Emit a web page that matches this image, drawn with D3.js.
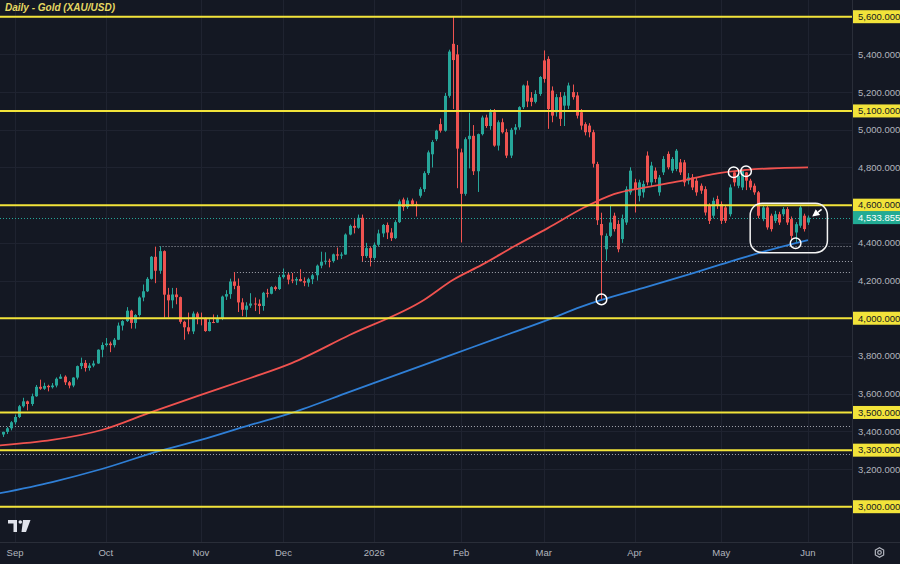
<!DOCTYPE html>
<html>
<head>
<meta charset="utf-8">
<script src="https://cdn.jsdelivr.net/npm/d3@7"></script>
<style>
    html, body { margin: 0; padding: 0; background: #141823; }
    svg { display: block; }
    text { font-family: 'Liberation Sans', 'DejaVu Sans', sans-serif; }
</style>
</head>
<body>
<svg id="chart" width="900" height="564"></svg>
<script>

const title = 'Daily - Gold (XAU/USD)'

// trading calendar
const firstDay = '2025-08-27'
const lastDay = '2026-06-01'
const holidays = ['2025-12-25', '2026-01-01', '2026-04-03']
const monthLabels = ['Sep', 'Oct', 'Nov', 'Dec', '2026', 'Feb', 'Mar', 'Apr', 'May', 'Jun']

// daily candles (Aug 27 .. Jun 1)
const open = [
    3383, 3397, 3416,
    3448, 3476, 3533, 3559, 3545, 3586, 3636, 3626, 3641, 3634, 3643, 3679, 3690, 3660, 3643, 3685, 3746, 3763, 3736, 3749, 3760, 3833,
    3858, 3866, 3857, 3886, 3961, 3985, 4040, 3975, 4017, 4110, 4143, 4209, 4326, 4252, 4356, 4125, 4095, 4126, 4112, 3981, 3952, 3930, 4025,
    4002, 4000, 3932, 3980, 3977, 4001, 4115, 4128, 4195, 4172, 4084, 4045, 4067, 4078, 4077, 4065, 4135, 4130, 4165, 4155,
    4218, 4231, 4205, 4200, 4208, 4197, 4189, 4207, 4228, 4279, 4300, 4305, 4303, 4339, 4332, 4338, 4444, 4490, 4480, 4533, 4330, 4372,
    4320, 4390, 4450, 4495, 4455, 4425, 4510, 4630, 4590, 4625, 4605, 4650, 4685, 4770, 4870, 4950, 5030, 4995, 5180, 5456, 5400,
    4880, 4660, 4950, 4968, 4780, 4977, 5065, 5020, 5093, 4916, 5040, 4987, 4863, 5000, 5013, 5120, 5235, 5170, 5148, 5190,
    5368, 5376, 5208, 5093, 5173, 5128, 5128, 5200, 5182, 5093, 5030, 5022, 4987, 4818, 4500, 4366, 4437, 4544, 4500, 4420, 4508, 4668,
    4721, 4650, 4668, 4863, 4721, 4783, 4668, 4774, 4872, 4783, 4792, 4827, 4827, 4730, 4747, 4730, 4703, 4685, 4597, 4544, 4632,
    4606, 4588, 4552, 4774, 4703, 4694, 4774, 4730, 4703, 4668, 4526, 4588, 4544, 4517, 4552, 4552, 4579, 4526, 4455, 4491, 4544,
    4508
]
const high = [
    3398, 3423, 3454,
    3489, 3540, 3578, 3563, 3600, 3646, 3674, 3658, 3647, 3656, 3686, 3703, 3697, 3667, 3687, 3749, 3791, 3778, 3762, 3775, 3835, 3872,
    3895, 3876, 3895, 3977, 3990, 4059, 4045, 4022, 4116, 4179, 4218, 4330, 4380, 4381, 4360, 4161, 4161, 4161, 4115, 3987, 4030, 4036, 4034,
    4030, 4004, 3995, 4020, 4018, 4120, 4149, 4210, 4245, 4211, 4106, 4085, 4133, 4110, 4100, 4140, 4156, 4170, 4172, 4230,
    4264, 4240, 4240, 4218, 4260, 4217, 4215, 4236, 4285, 4353, 4350, 4316, 4343, 4375, 4350, 4450, 4497, 4525, 4550, 4550, 4400, 4380,
    4402, 4470, 4500, 4508, 4478, 4520, 4630, 4640, 4640, 4635, 4620, 4695, 4780, 4890, 4945, 5000, 5060, 5195, 5425, 5598, 5450,
    4900, 4960, 5090, 5025, 4980, 5075, 5080, 5110, 5110, 5050, 5060, 5005, 5010, 5030, 5125, 5240, 5260, 5200, 5210, 5285,
    5421, 5390, 5230, 5190, 5200, 5200, 5250, 5240, 5200, 5110, 5040, 5035, 5000, 4830, 4560, 4450, 4597, 4560, 4520, 4550, 4700, 4801,
    4740, 4735, 4730, 4885, 4830, 4800, 4760, 4860, 4885, 4855, 4898, 4845, 4840, 4770, 4765, 4745, 4715, 4700, 4610, 4640, 4650,
    4620, 4600, 4710, 4775, 4770, 4790, 4776, 4740, 4715, 4675, 4600, 4595, 4555, 4570, 4565, 4590, 4590, 4540, 4510, 4600, 4555,
    4545
]
const low = [
    3370, 3386, 3405,
    3436, 3470, 3526, 3511, 3535, 3583, 3620, 3620, 3612, 3627, 3633, 3678, 3646, 3628, 3634, 3675, 3730, 3717, 3722, 3740, 3758, 3793,
    3850, 3820, 3845, 3884, 3935, 3980, 3945, 3945, 4009, 4090, 4139, 4205, 4186, 4236, 4003, 4004, 4053, 4074, 3971, 3886, 3915, 3916, 3968,
    3962, 3928, 3930, 3974, 3975, 3990, 4097, 4103, 4154, 4033, 4011, 4007, 4055, 4038, 4022, 4040, 4110, 4127, 4146, 4150,
    4210, 4180, 4186, 4176, 4195, 4170, 4167, 4181, 4200, 4265, 4285, 4270, 4295, 4310, 4315, 4337, 4440, 4450, 4475, 4302, 4320, 4275,
    4310, 4380, 4430, 4420, 4410, 4420, 4505, 4570, 4580, 4595, 4540, 4640, 4670, 4760, 4800, 4940, 4985, 4990, 5170, 5110, 4690,
    4402, 4650, 4795, 4760, 4670, 4970, 5010, 5000, 4910, 4890, 4980, 4850, 4850, 4975, 5000, 5110, 5120, 5125, 5140, 5180,
    5250, 5005, 5040, 5070, 5020, 5020, 5110, 5160, 5060, 5000, 4970, 4960, 4800, 4495, 4100, 4304, 4430, 4460, 4350, 4400, 4495, 4655,
    4561, 4620, 4640, 4705, 4700, 4720, 4650, 4760, 4790, 4770, 4780, 4760, 4700, 4710, 4680, 4650, 4660, 4545, 4500, 4530, 4580,
    4500, 4505, 4540, 4700, 4690, 4680, 4680, 4680, 4655, 4530, 4515, 4470, 4460, 4505, 4495, 4540, 4495, 4420, 4400, 4480, 4460,
    4495
]
const close = [
    3397, 3416, 3448,
    3476, 3533, 3559, 3545, 3586, 3636, 3626, 3641, 3634, 3643, 3679, 3690, 3660, 3643, 3685, 3746, 3763, 3736, 3749, 3760, 3833, 3858,
    3866, 3857, 3886, 3961, 3985, 4040, 3975, 4017, 4110, 4143, 4209, 4326, 4252, 4356, 4125, 4095, 4126, 4112, 3981, 3952, 3930, 4025, 4002,
    4000, 3932, 3980, 3977, 4001, 4115, 4128, 4195, 4172, 4084, 4045, 4067, 4078, 4077, 4065, 4135, 4130, 4165, 4155, 4218,
    4231, 4205, 4200, 4208, 4197, 4189, 4207, 4228, 4279, 4300, 4305, 4303, 4339, 4332, 4338, 4444, 4490, 4480, 4533, 4330, 4372, 4320,
    4390, 4450, 4495, 4455, 4425, 4510, 4620, 4590, 4625, 4605, 4595, 4685, 4770, 4880, 4935, 4995, 4995, 5180, 5415, 5370, 4900,
    4660, 4950, 4968, 4780, 4977, 5065, 5020, 5093, 4916, 5040, 4987, 4863, 5000, 5013, 5120, 5235, 5150, 5148, 5190, 5280,
    5270, 5110, 5075, 5173, 5058, 5181, 5235, 5173, 5075, 5022, 4987, 4987, 4820, 4520, 4440, 4437, 4508, 4473, 4366, 4526, 4685, 4783,
    4685, 4721, 4712, 4721, 4810, 4739, 4747, 4845, 4801, 4845, 4889, 4774, 4721, 4747, 4694, 4668, 4677, 4561, 4517, 4623, 4597,
    4517, 4517, 4694, 4721, 4756, 4783, 4730, 4694, 4668, 4544, 4588, 4482, 4473, 4552, 4508, 4579, 4508, 4437, 4499, 4588, 4473,
    4533.855
]

// moving averages (bar index, price)
const redIdx = [-1, 12, 24, 36, 48, 60, 70, 84, 102, 109, 116, 124, 132, 141, 148, 156, 164, 172, 180, 188, 195]
const redVal = [3325, 3354, 3407, 3502, 3593, 3683, 3762, 3911, 4097, 4203, 4283, 4383, 4478, 4590, 4659, 4696, 4728, 4765, 4787, 4797, 4801]
const blueIdx = [-1, 12, 24, 38, 48, 60, 70, 84, 96, 108, 120, 132, 140, 145, 156, 172, 184, 192, 195]
const blueVal = [3070, 3131, 3200, 3296, 3354, 3434, 3498, 3609, 3705, 3800, 3896, 3991, 4060, 4097, 4166, 4272, 4352, 4399, 4415]

// price levels
const priceTicks = [3000, 3200, 3400, 3600, 3800, 4000, 4200, 4400, 4600, 4800, 5000, 5200, 5400, 5600]
const levels = [5600, 5100, 4600, 4000, 3500, 3300, 3000]
const rayPrices = [4381, 4245, 4302, 3430, 3282]
const rayStart = [38, 56, 87, -5, -5]
const lastPrice = 4533.855

// annotations (bar index, price)
const ringIdx = [177, 180, 145, 192]
const ringPrice = [4775, 4780, 4100, 4398]
const boxIdx = [181, 199.7]
const boxPrice = [4610, 4348]
const arrowIdx = [198.3, 196.3]
const arrowPrice = [4578, 4544]


const W = 900
const H = 564
const plotW = 852
const plotH = 542

const up = '#26a69a'
const down = '#ef5350'
const yellow = '#f2e33a'
const gridColor = '#1f2330'
const axisText = '#b2b5be'

const days = []
for (let d = new Date(firstDay + 'T00:00:00Z'); d <= new Date(lastDay + 'T00:00:00Z'); d.setUTCDate(d.getUTCDate() + 1)) {
    const iso = d.toISOString().slice(0, 10)
    const wd = d.getUTCDay()
    if (wd === 0 || wd === 6 || holidays.includes(iso)) continue
    days.push(iso)
}

const monthStarts = []
days.forEach((d, i) => {
    if (i > 0 && d.slice(5, 7) !== days[i - 1].slice(5, 7)) monthStarts.push(i)
})

const x = d3.scaleLinear().domain([3, 195]).range([15, 808])
const y = d3.scaleLinear().domain([3000, 5600]).range([506.7, 16.7])

const svg = d3.select('#chart')

svg.append('rect').attr('width', W).attr('height', H).attr('fill', '#141823')

svg.append('defs').append('clipPath').attr('id', 'plotclip')
    .append('rect').attr('width', plotW).attr('height', plotH)

svg.select('defs').append('marker')
    .attr('id', 'head')
    .attr('viewBox', '0 0 10 10')
    .attr('refX', 8).attr('refY', 5)
    .attr('markerWidth', 4.5).attr('markerHeight', 4.5)
    .attr('orient', 'auto')
    .append('path').attr('d', 'M0,0 L10,5 L0,10 z').attr('fill', '#ffffff')

const plot = svg.append('g').attr('clip-path', 'url(#plotclip)')

// grid
plot.append('g').selectAll('line').data(priceTicks).join('line')
    .attr('x1', 0).attr('x2', plotW)
    .attr('y1', d => Math.round(y(d)) + 0.5).attr('y2', d => Math.round(y(d)) + 0.5)
    .attr('stroke', gridColor)

plot.append('g').selectAll('line').data(monthStarts).join('line')
    .attr('x1', d => Math.round(x(d)) + 0.5).attr('x2', d => Math.round(x(d)) + 0.5)
    .attr('y1', 0).attr('y2', plotH)
    .attr('stroke', gridColor)

// dotted rays
plot.append('g').selectAll('line').data(rayPrices).join('line')
    .attr('x1', (d, i) => x(rayStart[i])).attr('x2', plotW)
    .attr('y1', d => Math.round(y(d)) + 0.5).attr('y2', d => Math.round(y(d)) + 0.5)
    .attr('stroke', '#a3a6af')
    .attr('stroke-dasharray', '1,2')

plot.append('line')
    .attr('x1', 0).attr('x2', plotW)
    .attr('y1', Math.round(y(lastPrice)) + 0.5).attr('y2', Math.round(y(lastPrice)) + 0.5)
    .attr('stroke', up)
    .attr('stroke-dasharray', '1,2')

// candles
const bars = open.map((o, i) => ({ i, o, h: high[i], l: low[i], c: close[i] }))

const candles = plot.append('g').selectAll('g').data(bars).join('g')
    .attr('fill', d => d.c >= d.o ? up : down)
    .attr('stroke', d => d.c >= d.o ? up : down)

candles.append('line')
    .attr('x1', d => Math.round(x(d.i)) + 0.5).attr('x2', d => Math.round(x(d.i)) + 0.5)
    .attr('y1', d => y(d.h)).attr('y2', d => y(d.l))
    .attr('stroke-width', 1)

candles.append('rect')
    .attr('stroke', 'none')
    .attr('x', d => Math.round(x(d.i)) - 1)
    .attr('width', 3)
    .attr('y', d => y(Math.max(d.o, d.c)))
    .attr('height', d => Math.max(1, Math.abs(y(d.o) - y(d.c))))

// moving averages
const maLine = d3.line().curve(d3.curveMonotoneX).x(d => x(d[0])).y(d => y(d[1]))

plot.append('path')
    .datum(redIdx.map((d, i) => [d, redVal[i]]))
    .attr('d', maLine)
    .attr('fill', 'none')
    .attr('stroke', '#f0524f')
    .attr('stroke-width', 1.8)

plot.append('path')
    .datum(blueIdx.map((d, i) => [d, blueVal[i]]))
    .attr('d', maLine)
    .attr('fill', 'none')
    .attr('stroke', '#2f7fd6')
    .attr('stroke-width', 1.8)

// yellow levels
plot.append('g').selectAll('line').data(levels).join('line')
    .attr('x1', 0).attr('x2', plotW)
    .attr('y1', d => y(d)).attr('y2', d => y(d))
    .attr('stroke', yellow)
    .attr('stroke-width', 2)

// annotations
plot.append('g').selectAll('circle').data(ringIdx).join('circle')
    .attr('cx', d => x(d))
    .attr('cy', (d, i) => y(ringPrice[i]))
    .attr('r', 5.3)
    .attr('fill', 'none')
    .attr('stroke', '#ffffff')
    .attr('stroke-width', 1.5)

plot.append('rect')
    .attr('x', x(boxIdx[0])).attr('y', y(boxPrice[0]))
    .attr('width', x(boxIdx[1]) - x(boxIdx[0]))
    .attr('height', y(boxPrice[1]) - y(boxPrice[0]))
    .attr('rx', 12)
    .attr('fill', 'none')
    .attr('stroke', '#f4f4f4')
    .attr('stroke-width', 1.5)

plot.append('line')
    .attr('x1', x(arrowIdx[0])).attr('y1', y(arrowPrice[0]))
    .attr('x2', x(arrowIdx[1])).attr('y2', y(arrowPrice[1]))
    .attr('stroke', '#ffffff')
    .attr('stroke-width', 1.6)
    .attr('marker-end', 'url(#head)')

// panel borders
svg.append('line').attr('x1', plotW + 0.5).attr('x2', plotW + 0.5).attr('y1', 0).attr('y2', H)
    .attr('stroke', '#2a2e39')
svg.append('line').attr('x1', 0).attr('x2', W).attr('y1', plotH + 0.5).attr('y2', plotH + 0.5)
    .attr('stroke', '#2a2e39')

// right axis
const yAxis = svg.append('g')
    .attr('transform', `translate(${plotW},0)`)
    .call(d3.axisRight(y).tickValues(priceTicks).tickFormat(d3.format(',.3f')).tickSize(0).tickPadding(6))

yAxis.select('.domain').remove()
yAxis.selectAll('text')
    .attr('fill', axisText)
    .style('font-family', "'Liberation Sans', sans-serif")
    .style('font-size', '9.5px')

const tags = svg.append('g')

levels.forEach(p => {
    tags.append('rect')
        .attr('x', plotW + 1).attr('y', y(p) - 6.5)
        .attr('width', W - plotW - 1).attr('height', 13)
        .attr('fill', yellow)
    tags.append('text')
        .attr('x', plotW + 6).attr('y', y(p))
        .attr('dy', '0.35em')
        .attr('fill', '#131722')
        .style('font-size', '9.5px')
        .text(d3.format(',.3f')(p))
})

tags.append('rect')
    .attr('x', plotW + 1).attr('y', y(lastPrice) - 6.5)
    .attr('width', W - plotW - 1).attr('height', 13)
    .attr('fill', '#22ab94')
tags.append('text')
    .attr('x', plotW + 6).attr('y', y(lastPrice))
    .attr('dy', '0.35em')
    .attr('fill', '#ffffff')
    .style('font-size', '9.5px')
    .text(d3.format(',.3f')(lastPrice))

// bottom axis
svg.append('g').selectAll('text').data(monthStarts).join('text')
    .attr('x', d => x(d))
    .attr('y', 553)
    .attr('dy', '0.35em')
    .attr('text-anchor', 'middle')
    .attr('fill', axisText)
    .style('font-size', '9.5px')
    .text((d, i) => monthLabels[i])

// title
svg.append('text')
    .attr('x', 5).attr('y', 11)
    .attr('fill', '#e6d862')
    .style('font-size', '10px')
    .style('font-weight', 'bold')
    .style('font-style', 'italic')
    .text(title)

// tradingview mark
const logo = svg.append('g').attr('fill', '#e0e3eb')
logo.append('path').attr('d', 'M8,520 H17 V532 H13.5 V523.5 H8 Z')
logo.append('circle').attr('cx', 20.3).attr('cy', 522).attr('r', 1.8)
logo.append('path').attr('d', 'M23,520 H30.5 L26,532 H21.5 Z')

// settings icon
const gear = svg.append('g').attr('transform', 'translate(879.5,552.5)')
gear.append('path')
    .attr('d', d3.range(6).map(k => {
        const a = Math.PI / 3 * k + Math.PI / 6
        return (k ? 'L' : 'M') + (4.8 * Math.cos(a)).toFixed(2) + ',' + (4.8 * Math.sin(a)).toFixed(2)
    }).join('') + 'Z')
    .attr('fill', 'none')
    .attr('stroke', axisText)
    .attr('stroke-width', 1.2)
gear.append('circle').attr('r', 1.8).attr('fill', 'none').attr('stroke', axisText).attr('stroke-width', 1.2)

</script>
</body>
</html>
